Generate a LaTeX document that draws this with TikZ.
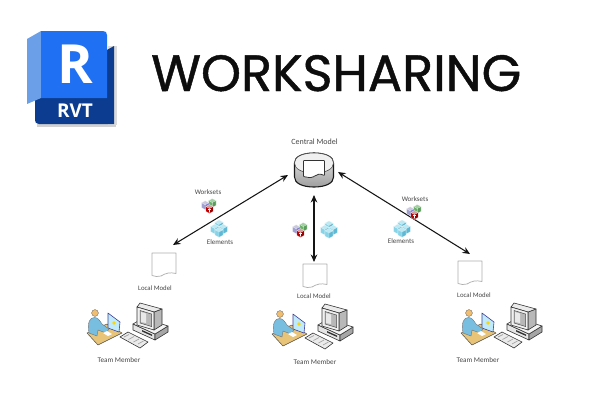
\documentclass[tikz,border=0pt]{standalone}
\usepackage{fontspec}
\setmainfont{Carlito}
\newfontfamily\titlefont[FakeBold=0.9]{Poppins}
\newfontfamily\logofont[Scale=1]{Open Sans}
\usetikzlibrary{arrows.meta}
\definecolor{logolight}{RGB}{107,160,232}
\definecolor{logomain}{RGB}{32,112,243}
\definecolor{logodark}{RGB}{11,60,143}
\definecolor{desk}{RGB}{232,196,120}
\definecolor{skin}{RGB}{240,190,110}
\definecolor{shirt}{RGB}{120,190,225}
\definecolor{cubeT}{RGB}{190,232,242}
\definecolor{cubeL}{RGB}{135,212,232}
\definecolor{cubeR}{RGB}{95,185,212}
\tikzset{
  lbl/.style={inner sep=0pt,font=\fontsize{7}{8}\selectfont,text=black!72},
  link/.style={draw=black!92,line width=1.05pt,{Stealth[length=7.5pt,width=6.5pt]}-{Stealth[length=7.5pt,width=6.5pt]}},
  iconline/.style={draw=black!80,line width=0.6pt,line join=round},
  localdoc/.style={draw=black!32,line width=0.7pt,fill=white,line join=round},
}
% small isometric cube: x, y, half-width, top, left, right
\newcommand\isocube[6]{%
  \begin{scope}[shift={(#1,#2)},x=#3pt,y=-#3pt]
    \fill[#4] (-1,-.55)--(0,-1.1)--(1,-.55)--(0,0)--cycle;
    \fill[#5] (-1,-.55)--(0,0)--(0,1.3)--(-1,.75)--cycle;
    \fill[#6] (1,-.55)--(0,0)--(0,1.3)--(1,.75)--cycle;
    \draw[white,opacity=.75,line width=.25pt,line join=round] (-1,-.55)--(0,0)--(1,-.55) (0,0)--(0,1.3) (-1,-.55)--(0,-1.1)--(1,-.55)--(1,.75)--(0,1.3)--(-1,.75)--cycle;
  \end{scope}}
\newcommand\worksets[2]{%
  \begin{scope}[shift={(#1,#2)}]
    \isocube{3.3}{-3.4}{3.7}{green!30!gray!55}{green!50!black!60}{green!40!black!65}
    \isocube{-3.8}{-1.2}{3.7}{blue!20!gray!35}{blue!35!gray!55}{blue!45!gray!70}
    \isocube{0.5}{2.6}{3.7}{red!40!gray!55}{red!75!black}{red!60!black}
    \draw[white,line width=.5pt] (-.6,3.2)--(2,3.2) (.7,3.2)--(.7,6);
  \end{scope}}
\newcommand\elements[2]{%
  \begin{scope}[shift={(#1,#2)}]
    \isocube{0}{-4.6}{4.1}{cubeT}{cubeL}{cubeR}
    \isocube{-4.2}{-.4}{4.1}{cubeT}{cubeL}{cubeR}
    \isocube{4.2}{-.4}{4.1}{cubeT}{cubeL}{cubeR}
    \isocube{0}{3}{4.1}{cubeT}{cubeL}{cubeR}
  \end{scope}}
\newcommand\docshape[2]{%
  \path[localdoc,shift={(#1,#2)}] (0,0)--(24,0)--(24,20.5)
    .. controls (18,19) and (14,20) .. (9,23)
    .. controls (6,24) and (3,23.5) .. (0,22.5)--cycle;}
\newcommand\teammember[2]{%
  \begin{scope}[shift={(#1,#2)}]
    % desk
    \path[draw=black!70,line width=.5pt,fill=desk,line join=round]
      (87,333)--(107,324)--(122,333)--(98,345)--cycle;
    % tablet
    \path[draw=blue!45!black!75,line width=.6pt,fill=cyan!25!white,line join=round]
      (108,313)--(120,322)--(119,332)--(108,328)--cycle;
    \fill[yellow!75!orange] (114,323) circle (1.8);
    % person
    \path[draw=black!55,line width=.4pt,fill=shirt,line join=round]
      (89,333) .. controls (87,322) and (90,317.5) .. (94.5,317.5)
      .. controls (98,317.5) and (100,321) .. (102,324)
      -- (109,329)--(106,333)--(98,330)--(97,336)--cycle;
    \path[draw=black!55,line width=.4pt,fill=skin] (95,313) circle (3.4);
    \fill[white] (103,333)--(107,331)--(112,334)--(108,336)--cycle;
    % computer base
    \path[iconline,fill=black!10] (133,324)--(155,334)--(155,340)--(133,330)--cycle;
    \path[iconline,fill=black!35] (155,334)--(168,326)--(168,332)--(155,340)--cycle;
    \path[iconline,fill=black!4] (133,324)--(143,318)--(168,326)--(155,334)--cycle;
    \fill[black!80] (142,330)--(152,334.5)--(152,336)--(142,331.5)--cycle;
    % monitor
    \path[iconline,fill=black!28] (154,312)--(162,309)--(162,325)--(154,330)--cycle;
    \path[iconline,fill=black!8] (137,307)--(140,303)--(162,309)--(154,312)--cycle;
    \path[iconline,fill=black!6] (137,307)--(154,312)--(154,330)--(137,325)--cycle;
    \path[draw=black!70,line width=.5pt,fill=black!28] (140,310.5)--(151.5,314)--(151.5,326.5)--(140,323)--cycle;
    \fill[white,opacity=.7] (141,312)--(146,313.5)--(146,323)--(141,322)--cycle;
    % keyboard
    \path[iconline,fill=black!8] (120,337)--(128,332)--(148,342)--(140,348)--cycle;
    \path[draw=black!35,line width=.7pt] (124,337)--(129,334.5) (128.5,339.5)--(134,336.5) (133.5,342)--(139,339) (138,344)--(143.5,341);
  \end{scope}}
\begin{document}
\begin{tikzpicture}[x=1pt,y=-1pt]
\useasboundingbox (0,0) rectangle (600,400);
\fill[white] (0,0) rectangle (600,400);
% logo
\fill[black!18] (37,103) rectangle (116,127);
\fill[black!14] (108,46) rectangle (117,125);
\fill[logodark] (35,90) -- (114,46) -- (114,124)--(39,124) .. controls (36,124) and (35,122) .. (35,120)--cycle;
\fill[logolight] (27,39)--(41,31)--(41,98)--(27,104)--cycle;
\fill[logomain] (41,31)--(103,31) .. controls (105.5,31) and (107,32.5) .. (107,35)--(107,98)--(41,98)--cycle;
\node[inner sep=0pt,anchor=base,text=white,font=\logofont\bfseries\fontsize{54}{54}\selectfont] (logoR) at (75.5,83) {R};
\node[inner sep=0pt,anchor=base,text=white,font=\logofont\bfseries\fontsize{19}{19}\selectfont] (logoT) at (75,117) {RVT};
% title
\node[inner sep=0pt,anchor=base west,font=\titlefont\fontsize{51}{51}\selectfont,text=black!95] (title) at (151,91) {WORKSHARING};
% central model
\node[lbl,font=\fontsize{8}{9}\selectfont] (centralLabel) at (314.5,142) {Central Model};
\node[draw=none,inner sep=0pt,minimum width=40pt,minimum height=35pt] (central) at (314,170) {};
\begin{scope}[shift={(314,170)}]
  \path[draw=black!90,line width=1.1pt,top color=black!8,bottom color=black!38]
    (-19.5,-7) -- (-19.5,7) .. controls (-19.5,13) and (-12,17) .. (0,17)
    .. controls (12,17) and (19.5,13) .. (19.5,7) -- (19.5,-7) .. controls (19.5,-13) and (12,-17) .. (0,-17)
    .. controls (-12,-17) and (-19.5,-13) .. (-19.5,-7) -- cycle;
  \path[draw=black!70,line width=.6pt,fill=black!6]
    (-19.5,-7) .. controls (-19.5,-13) and (-12,-17) .. (0,-17)
    .. controls (12,-17) and (19.5,-13) .. (19.5,-7) .. controls (19.5,-1) and (12,3) .. (0,3)
    .. controls (-12,3) and (-19.5,-1) .. (-19.5,-7) -- cycle;
  \path[draw=black!80,line width=.8pt,fill=white,line join=round,rounded corners=.6pt]
    (-10.5,-9.5) -- (10.5,-9.5) -- (10.5,5.5) .. controls (6,3.5) and (3,4) .. (0,6.5)
    .. controls (-3,8) and (-7,7.5) .. (-10.5,6.5) -- cycle;
\end{scope}
% local models
\docshape{152}{253}
\node[inner sep=0pt,minimum width=24pt,minimum height=24pt] (localA) at (164,265) {};
\node[lbl,font=\fontsize{6.8}{8}\selectfont] (localAL) at (155,288.5) {Local Model};
\docshape{303}{264}
\node[inner sep=0pt,minimum width=24pt,minimum height=24pt] (localB) at (315,276) {};
\node[lbl,font=\fontsize{6.8}{8}\selectfont] (localBL) at (314,296) {Local Model};
\docshape{458}{261}
\node[inner sep=0pt,minimum width=24pt,minimum height=24pt] (localC) at (470,273) {};
\node[lbl,font=\fontsize{6.8}{8}\selectfont] (localCL) at (474,295.5) {Local Model};
% connector ends
\coordinate (cA) at (288,175);
\coordinate (cB) at (314,195);
\coordinate (cC) at (338,172);
\coordinate (lA) at (173,245);
\coordinate (lB) at (314,262);
\coordinate (lC) at (470,254);
\draw[link] (cA) -- (lA);
\draw[link] (cB) -- (lB);
\draw[link] (cC) -- (lC);
% set labels and icons
\node[lbl] (wsA) at (208,192.5) {Worksets};
\worksets{209}{206}
\node[lbl] (elA) at (220,242) {Elements};
\elements{219}{229}
\worksets{300}{230}
\elements{329}{230}
\node[lbl] (wsC) at (415,199.5) {Worksets};
\worksets{414}{212}
\elements{402}{229}
\node[lbl] (elC) at (401,241) {Elements};
% team members
\teammember{0}{0}
\node[lbl,font=\fontsize{7.2}{8}\selectfont] (tmA) at (119,360) {Team Member};
\teammember{185}{1}
\node[lbl,font=\fontsize{7.2}{8}\selectfont] (tmB) at (315,362) {Team Member};
\teammember{374}{0}
\node[lbl,font=\fontsize{7.2}{8}\selectfont] (tmC) at (478,360) {Team Member};
\end{tikzpicture}
\end{document}
